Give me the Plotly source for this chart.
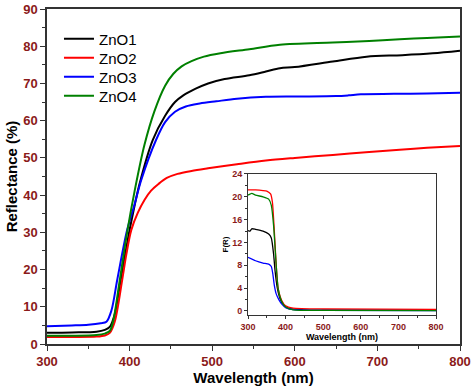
import plotly.graph_objects as go

# ---- main chart data: reflectance (%) vs wavelength (nm)
wl_zno1 = [300, 330, 360, 370, 376, 382, 389, 399, 404, 412, 428, 443, 455, 465, 480, 495, 515, 545, 565, 582, 600, 646, 687, 730, 767, 800]
r_zno1 = [3.0, 3.1, 3.3, 3.8, 4.6, 8, 17, 29.5, 35, 43, 54.8, 61.3, 65.0, 66.8, 68.6, 70.0, 71.2, 72.2, 73.2, 74.1, 74.4, 75.9, 77.2, 77.6, 78.1, 78.8]

wl_zno2 = [300, 330, 360, 370, 376, 382, 391, 396, 402, 410, 418, 426, 435, 445, 458, 475, 495, 530, 565, 600, 646, 690, 727, 760, 800]
r_zno2 = [1.9, 1.9, 2.0, 2.3, 3.0, 6, 17.2, 24, 30.6, 35.3, 38.7, 41.2, 43.0, 44.6, 45.7, 46.5, 47.2, 48.3, 49.3, 50.0, 50.8, 51.6, 52.2, 52.7, 53.2]

wl_zno3 = [300, 330, 350, 365, 372, 378, 385, 397, 406, 414, 432, 443, 455, 468, 485, 505, 530, 565, 600, 650, 665, 680, 720, 760, 800]
r_zno3 = [4.8, 5.0, 5.2, 5.6, 6.0, 9, 17.2, 30.6, 37.5, 44, 54.8, 59.6, 62.4, 63.8, 64.6, 65.2, 65.9, 66.4, 66.5, 66.6, 66.8, 67.1, 67.2, 67.3, 67.5]

wl_zno4 = [300, 330, 360, 370, 376, 380, 388, 397, 406, 418, 430, 443, 453, 463, 475, 490, 510, 545, 582, 646, 690, 727, 760, 800]
r_zno4 = [2.2, 2.2, 2.4, 2.8, 3.5, 6, 17, 30.0, 41.0, 53.5, 62.5, 69.4, 72.6, 74.6, 76.0, 77.2, 78.1, 79.2, 80.4, 81.0, 81.4, 81.9, 82.2, 82.6]

# ---- inset data: F(R) vs wavelength (nm)
wl_f1 = [300, 305, 310, 320, 340, 355, 362, 368, 372, 378, 385, 395, 410, 450, 500, 800]
f_zno1 = [14.1, 14.0, 14.4, 14.3, 14.0, 13.5, 12.8, 10, 7, 4, 2.2, 1.0, 0.4, 0.2, 0.15, 0.1]
wl_f2 = [300, 320, 340, 350, 360, 365, 370, 375, 380, 390, 400, 420, 500, 800]
f_zno2 = [21.2, 21.2, 21.1, 21.0, 20.5, 19, 14, 8, 4, 1.8, 0.9, 0.5, 0.35, 0.3]
wl_f3 = [300, 320, 340, 355, 362, 366, 370, 375, 382, 390, 400, 420, 500, 800]
f_zno3 = [9.4, 8.8, 8.4, 8.2, 7.8, 6.5, 4.5, 3.0, 2.0, 1.2, 0.6, 0.25, 0.1, 0.05]
wl_f4 = [300, 310, 320, 340, 355, 362, 368, 375, 380, 390, 400, 420, 500, 800]
f_zno4 = [20.3, 20.6, 20.3, 20.0, 19.6, 18.5, 15, 8, 4, 1.6, 0.7, 0.2, 0.1, 0.05]

names = ["ZnO1", "ZnO2", "ZnO3", "ZnO4"]
colors = ["#000000", "#ff0000", "#0000ff", "#008000"]
legend_ids = ["legend", "legend2", "legend3", "legend4"]

main_sets = [(wl_zno1, r_zno1), (wl_zno2, r_zno2), (wl_zno3, r_zno3), (wl_zno4, r_zno4)]
inset_sets = [(wl_f1, f_zno1), (wl_f2, f_zno2), (wl_f3, f_zno3), (wl_f4, f_zno4)]

FONT = "Arial, Liberation Sans, sans-serif"
TICKC = "#8b1a1a"

fig = go.Figure()
for (x, y), n, c, lg in zip(main_sets, names, colors, legend_ids):
    fig.add_trace(go.Scatter(x=x, y=y, mode="lines", name=n, legend=lg,
                             line=dict(color=c, width=2, shape="spline", smoothing=0.9),
                             xaxis="x", yaxis="y"))
for (x, y), n, c in zip(inset_sets, names, colors):
    fig.add_trace(go.Scatter(x=x, y=y, mode="lines", name=n, showlegend=False,
                             line=dict(color=c, width=1.3, shape="spline", smoothing=0.5),
                             xaxis="x2", yaxis="y2"))

axis_common = dict(showline=True, linecolor="#333", mirror=True, showgrid=False,
                   zeroline=False, ticks="outside", tickcolor="#333", automargin=False)

legend_style = dict(x=0.029, xanchor="left", yanchor="middle",
                    bgcolor="rgba(0,0,0,0)", font=dict(size=15, family=FONT, color="black"),
                    itemwidth=30)
legend_y = [0.9104, 0.8537, 0.797, 0.7403]

fig.update_layout(
    width=474, height=388,
    margin=dict(l=47, r=14, t=9, b=44),
    paper_bgcolor="white", plot_bgcolor="white",
    font=dict(family=FONT, color="black"),
    showlegend=True,
    legend=dict(y=legend_y[0], **legend_style),
    legend2=dict(y=legend_y[1], **legend_style),
    legend3=dict(y=legend_y[2], **legend_style),
    legend4=dict(y=legend_y[3], **legend_style),
    xaxis=dict(domain=[0, 1], range=[300, 800], dtick=100, linewidth=1.5, ticklen=5,
               tickfont=dict(size=13, color=TICKC, family=FONT, weight="bold"),
               title=dict(text="<b>Wavelength (nm)</b>", font=dict(size=15, family=FONT), standoff=0),
               minor=dict(dtick=50, ticks="outside", ticklen=3, tickcolor="#333"),
               **axis_common),
    yaxis=dict(domain=[0, 1], range=[0, 90], dtick=10, linewidth=1.5, ticklen=5,
               tickfont=dict(size=13, color=TICKC, family=FONT, weight="bold"),
               title=dict(text="<b>Reflectance (%)</b>", font=dict(size=15, family=FONT), standoff=2),
               minor=dict(dtick=5, ticks="outside", ticklen=3, tickcolor="#333"),
               **axis_common),
    xaxis2=dict(domain=[0.4867, 0.9419], range=[300, 800], dtick=100, anchor="y2",
                linewidth=1, ticklen=3,
                tickfont=dict(size=9, color=TICKC, family=FONT, weight="bold"),
                title=dict(text="<b>Wavelength (nm)</b>", font=dict(size=9, family=FONT), standoff=0),
                minor=dict(dtick=50, ticks="outside", ticklen=2, tickcolor="#333"),
                **axis_common),
    yaxis2=dict(domain=[0.0866, 0.5075], range=[-0.7, 24], tickvals=[0, 4, 8, 12, 16, 20, 24],
                anchor="x2", linewidth=1, ticklen=3,
                tickfont=dict(size=9, color=TICKC, family=FONT, weight="bold"),
                title=dict(text="<b>F(R)</b>", font=dict(size=8, family=FONT), standoff=2),
                minor=dict(dtick=2, ticks="outside", ticklen=2, tickcolor="#333"),
                **axis_common),
)

fig.write_html("out.html", config={"displayModeBar": False},
               post_script="document.body.style.margin='0';document.body.style.overflow='hidden';")
